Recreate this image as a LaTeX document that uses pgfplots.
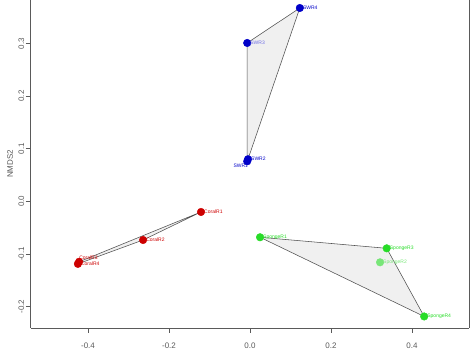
\documentclass[border=0pt]{standalone}
\usepackage{pgfplots}
\usepackage{pgfplotstable}
\pgfplotsset{compat=1.18}
\usepackage{fontspec}
\setmainfont{Liberation Sans}
\definecolor{rblue}{RGB}{0,0,200}
\definecolor{rred}{RGB}{205,0,0}
\definecolor{rgreen}{RGB}{40,220,40}
\definecolor{lgreen}{RGB}{120,230,120}
\definecolor{lblue}{RGB}{110,110,230}
\definecolor{axgray}{RGB}{90,90,90}
\definecolor{hullfill}{RGB}{240,240,240}
\definecolor{hulldraw}{RGB}{80,80,80}

\pgfplotstableread{
x y lab
0.123 0.3675 SWR4
-0.007 0.301 SWR3
-0.005 0.080 SWR2
-0.007 0.076 SWR1
}\blue
\pgfplotstableread{
x y lab
-0.121 -0.0203 CoralR1
-0.264 -0.0736 CoralR2
-0.422 -0.115 CoralR3
-0.425 -0.119 CoralR4
}\red
\pgfplotstableread{
x y lab
0.0247 -0.0684 SpongeR1
0.321 -0.116 SpongeR2
0.3375 -0.0894 SpongeR3
0.430 -0.219 SpongeR4
}\green

\begin{document}
\begin{tikzpicture}
\begin{axis}[
  at={(0,0)}, anchor=south west, scale only axis,
  width=438.3pt, height=328pt,
  xmin=-0.5415, xmax=0.5407, ymin=-0.2409, ymax=0.3827,
  axis x line*=bottom, axis y line*=left,
  axis line style={axgray, line width=0.6pt},
  tick style={axgray, line width=0.6pt},
  tick align=outside, major tick length=5pt,
  xtick={-0.4,-0.2,0,0.2,0.4},
  ytick={-0.2,-0.1,0,0.1,0.2,0.3},
  /pgf/number format/assume math mode=true,
  /pgf/number format/.cd, fixed, fixed zerofill, precision=1, /pgfplots/.cd,
  ticklabel style={font=\fontsize{8}{9}\selectfont, text=axgray},
  xticklabel style={yshift=-6pt},
  yticklabel style={rotate=90, anchor=south, yshift=-2pt},
  ylabel={NMDS2},
  every axis y label/.style={at={(axis description cs:-0.047,0.5)}, rotate=90, anchor=center, font=\fontsize{8}{9}\selectfont, text=axgray},
  clip=false,
]
% hulls
\addplot[fill=hullfill, draw=hulldraw, line width=0.55pt] coordinates {(0.123,0.3675) (-0.007,0.301) (-0.007,0.076) (-0.005,0.080)} -- cycle;
\addplot[fill=hullfill, draw=hulldraw, line width=0.55pt] coordinates {(-0.121,-0.0203) (-0.422,-0.115) (-0.425,-0.119) (-0.264,-0.0736)} -- cycle;
\addplot[fill=hullfill, draw=hulldraw, line width=0.55pt] coordinates {(0.0247,-0.0684) (0.3375,-0.0894) (0.430,-0.219)} -- cycle;
% points
\addplot[only marks, mark=*, mark size=3.8pt, mark options={draw=rblue, fill=rblue}] table[x=x,y=y] {\blue};
\addplot[only marks, mark=*, mark size=3.8pt, mark options={draw=rred, fill=rred}] table[x=x,y=y] {\red};
\addplot[only marks, mark=*, mark size=3.8pt, mark options={draw=rgreen, fill=rgreen}] coordinates {(0.0247,-0.0684) (0.3375,-0.0894) (0.430,-0.219)};
\addplot[only marks, mark=*, mark size=3.8pt, mark options={draw=lgreen, fill=lgreen}] coordinates {(0.321,-0.116)};
% labels
\pgfplotsset{lbl/.style={only marks, mark=none, nodes near coords, point meta=explicit symbolic,
  every node near coord/.append style={font=\fontsize{5}{6}\selectfont, inner sep=1pt}}}
\addplot[lbl, every node near coord/.append style={anchor=west, text=rblue, xshift=2pt}] coordinates {(0.123,0.3675)[SWR4] (-0.005,0.080)[SWR2]};
\addplot[lbl, every node near coord/.append style={anchor=west, text=lblue, xshift=2pt}] coordinates {(-0.007,0.301)[SWR3]};
\addplot[lbl, every node near coord/.append style={anchor=north east, text=rblue, xshift=2pt, yshift=-1pt}] coordinates {(-0.007,0.076)[SWR1]};
\addplot[lbl, every node near coord/.append style={anchor=west, text=rred, xshift=2pt}] coordinates {(-0.121,-0.0203)[CoralR1] (-0.264,-0.0736)[CoralR2] (-0.425,-0.119)[CoralR4]};
\addplot[lbl, every node near coord/.append style={anchor=south west, text=rred, xshift=-1pt, yshift=1pt}] coordinates {(-0.422,-0.115)[CoralR3]};
\addplot[lbl, every node near coord/.append style={anchor=west, text=rgreen, xshift=2pt}] coordinates {(0.0247,-0.0684)[SpongeR1] (0.3375,-0.0894)[SpongeR3] (0.430,-0.219)[SpongeR4]};
\addplot[lbl, every node near coord/.append style={anchor=west, text=lgreen, xshift=2pt}] coordinates {(0.321,-0.116)[SpongeR2]};
\draw[axgray, line width=0.6pt] (rel axis cs:1,0) -- (rel axis cs:1,1);
\end{axis}
\pgfresetboundingbox
\path[use as bounding box] (-30.7pt,-27pt) rectangle (443.3pt,328pt);
\end{tikzpicture}
\end{document}
